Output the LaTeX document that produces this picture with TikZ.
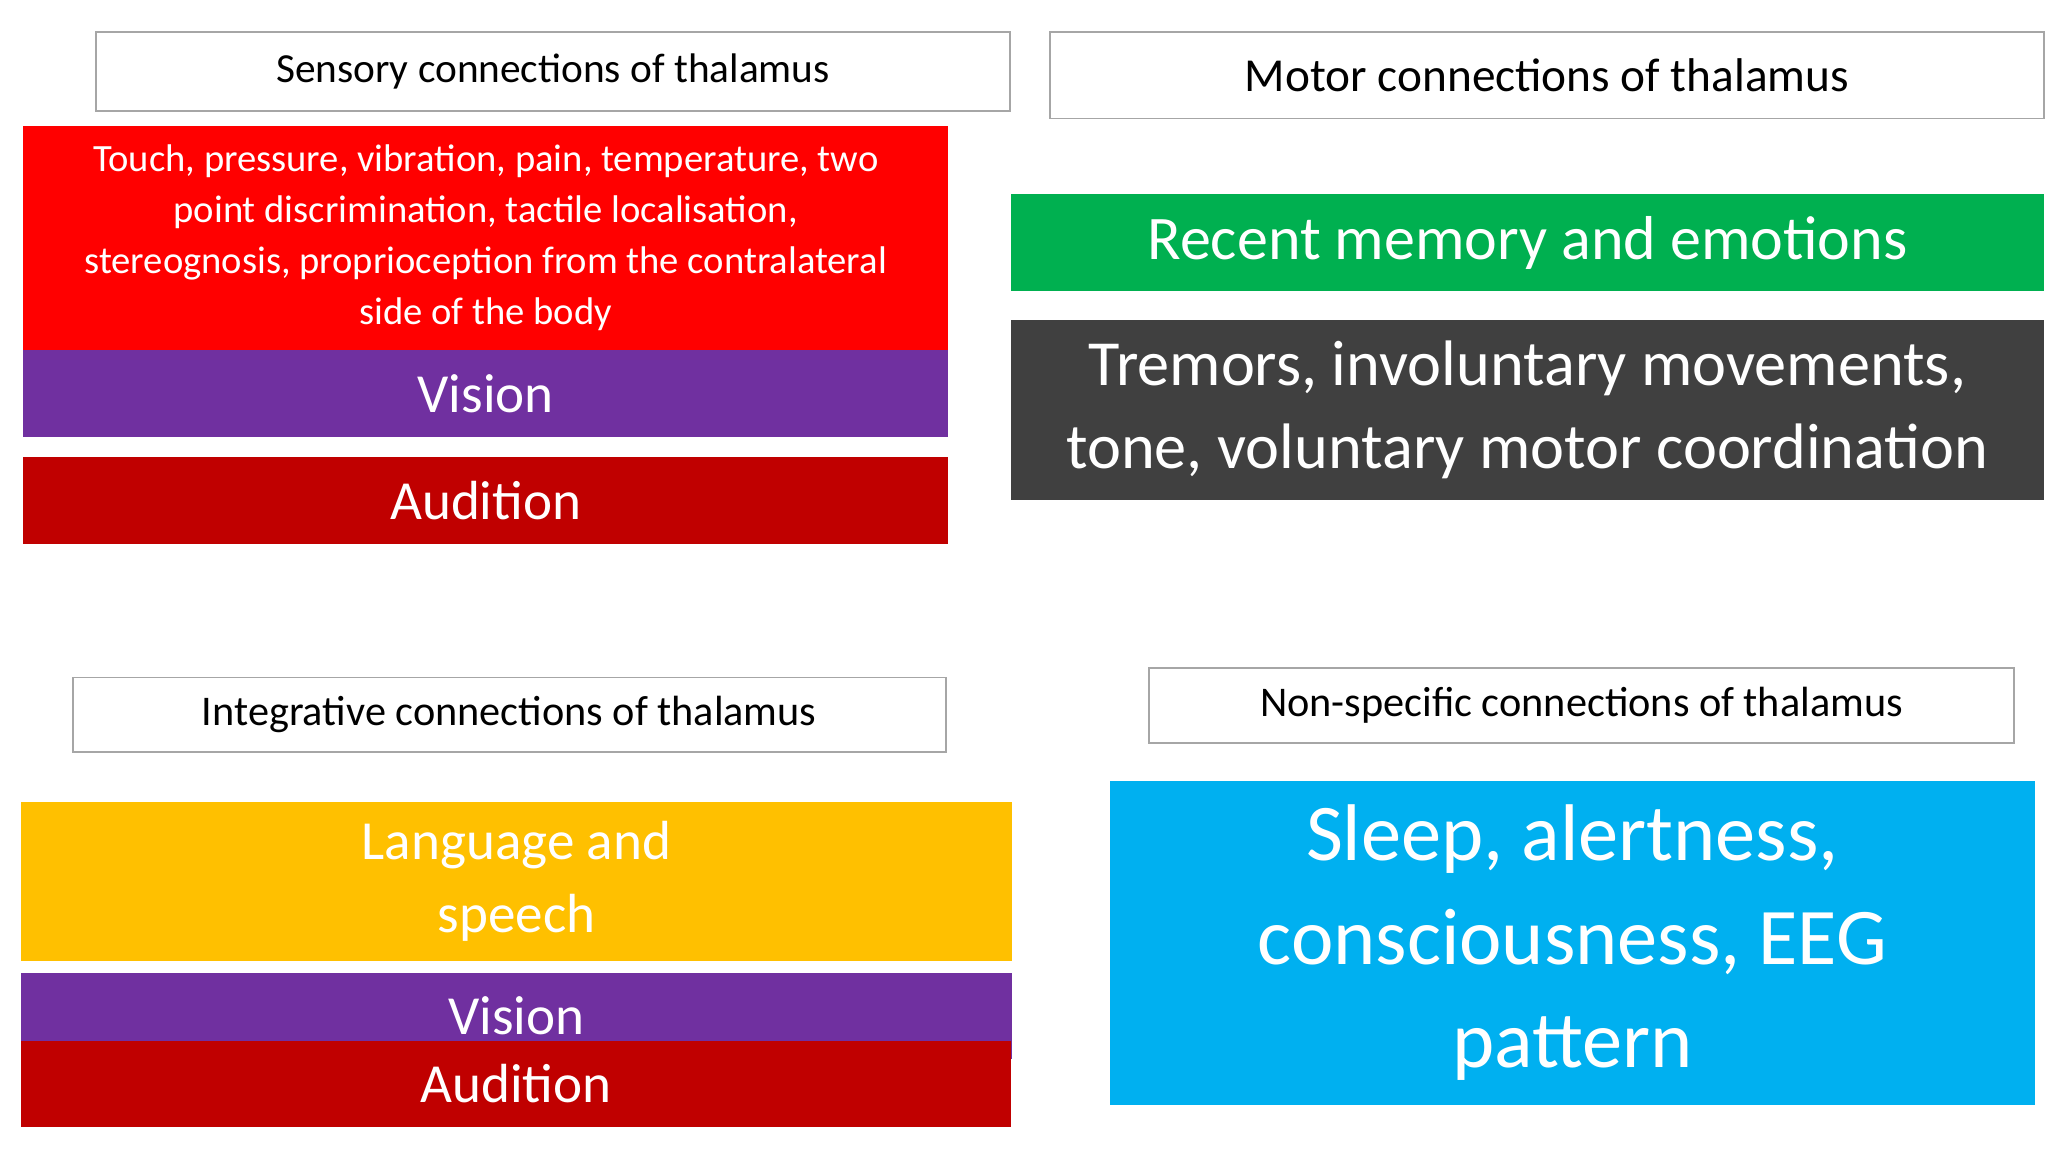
\documentclass[tikz,border=0pt]{standalone}
\usepackage{fontspec}
\setmainfont{Carlito}
\definecolor{redc}{HTML}{FF0000}
\definecolor{purplec}{HTML}{7030A0}
\definecolor{darkredc}{HTML}{C00000}
\definecolor{greenc}{HTML}{00B050}
\definecolor{greyc}{HTML}{404040}
\definecolor{yellowc}{HTML}{FFC000}
\definecolor{bluec}{HTML}{00B0F0}
\begin{document}
\begin{tikzpicture}[x=.01cm, y=-.01cm,
    title/.style={draw=gray!70,fill=white,inner sep=0,anchor=north west,align=center},
    block/.style={draw=none,text=white,inner sep=0,anchor=north west,align=center}]
    \useasboundingbox (0,0) rectangle (1568,882);
    % sensory
    \node at (73,24) [title,minimum width=6.99cm,minimum height=.60cm,font=\fontsize{9}{10}\selectfont] (senst) {Sensory connections of thalamus};
    \node at (17,96) [block,fill=redc,minimum width=7.08cm,minimum height=1.71cm,font=\fontsize{8.4}{11.1}\selectfont] (touch) {Touch, pressure, vibration, pain, temperature, two\\point discrimination, tactile localisation,\\stereognosis, proprioception from the contralateral\\side of the body};
    \node at (17,267) [block,fill=purplec,minimum width=7.08cm,minimum height=.67cm,font=\fontsize{12}{14}\selectfont] (vis1) {Vision};
    \node at (17,349) [block,fill=darkredc,minimum width=7.08cm,minimum height=.67cm,font=\fontsize{12}{14}\selectfont] (aud1) {Audition};
    % motor
    \node at (803,24) [title,minimum width=7.61cm,minimum height=.66cm,font=\fontsize{10.3}{12}\selectfont] (motort) {Motor connections of thalamus};
    \node at (773,148) [block,fill=greenc,minimum width=7.91cm,minimum height=.74cm,font=\fontsize{13.5}{15}\selectfont] (memory) {Recent memory and emotions};
    \node at (773,244) [block,fill=greyc,minimum width=7.91cm,minimum height=1.38cm,font=\fontsize{14}{18}\selectfont] (tremor) {Tremors, involuntary movements,\\tone, voluntary motor coordination};
    % integrative
    \node at (55,518) [title,minimum width=6.68cm,minimum height=.57cm,font=\fontsize{9.2}{10}\selectfont] (integt) {Integrative connections of thalamus};
    \node at (15,613) [block,fill=yellowc,minimum width=7.59cm,minimum height=1.22cm,font=\fontsize{12}{15.8}\selectfont] (lang) {Language and\\speech};
    \node at (15,744) [block,fill=purplec,minimum width=7.59cm,minimum height=.66cm,font=\fontsize{12}{14}\selectfont,anchor=north west] (vis2) {\raisebox{-1ex}{Vision}};
    \node at (15,796) [block,fill=darkredc,minimum width=7.58cm,minimum height=.66cm,font=\fontsize{12}{14}\selectfont] (aud2) {Audition};
    % non-specific
    \node at (879,511) [title,minimum width=6.62cm,minimum height=.57cm,font=\fontsize{9.2}{10}\selectfont] (nonst) {Non-specific connections of thalamus};
    \node at (849,597) [block,fill=bluec,minimum width=7.08cm,minimum height=2.48cm,font=\fontsize{17.5}{22.5}\selectfont] (sleep) {Sleep, alertness,\\consciousness, EEG\\pattern};
\end{tikzpicture}
\end{document}
